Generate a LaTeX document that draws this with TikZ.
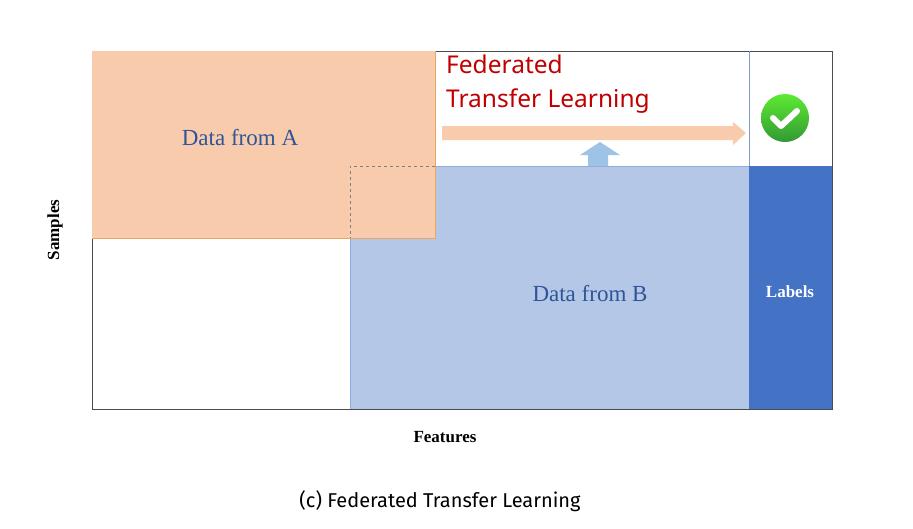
\documentclass[tikz,border=0pt]{standalone}
\usepackage{fontspec}
\setmainfont{Liberation Serif}
\newfontfamily\redsans{Noto Sans}
\newfontfamily\capfont{Fira Sans}
\definecolor{orA}{HTML}{F8CBAD}
\definecolor{blB}{HTML}{B4C7E7}
\definecolor{blL}{HTML}{4472C4}
\definecolor{txB}{HTML}{2F5597}
\definecolor{redT}{HTML}{C00000}
\definecolor{upA}{HTML}{9DC3E6}
\usetikzlibrary{shadings}
\begin{document}
\begin{tikzpicture}[x=1pt,y=-1pt,
  lbl/.style={inner sep=0pt,font=\bfseries\fontsize{17}{20}\selectfont}]
\useasboundingbox (0,0) rectangle (913,528);
\fill[white] (0,0) rectangle (913,528);
\node (frame) [draw=black!70,line width=0.8pt,minimum width=740pt,minimum height=358pt,inner sep=0pt,anchor=north west] at (92,51) {};
\fill[blB] (350,166) rectangle (749,409);
\draw[blL!60,line width=0.6pt] (350,409) -- (350,166) -- (749,166);
\fill[orA] (92,51) rectangle (435,238);
\draw[orange!50!brown!70,line width=0.5pt] (92,238) -- (435,238) -- (435,51);
\draw[gray,dashed,line width=0.6pt] (435,166) -- (350,166) -- (350,238);
\fill[blL] (749,166) rectangle (832,409);
\draw[blL!70,line width=0.6pt] (749,51) -- (749,166);
\node (dA) [text=txB,font=\fontsize{23}{26}\selectfont] at (240,138) {Data from A};
\node (dB) [text=txB,font=\fontsize{23}{26}\selectfont] at (590,294) {Data from B};
\node (lab) [lbl,text=white] at (790,292) {Labels};
\node (ftl) [text=redT,font=\redsans\fontsize{24.5}{34}\selectfont,align=left,anchor=north west,inner sep=0pt] at (446,55) {Federated\\Transfer Learning};
\fill[orA] (442,126) -- (733,126) -- (733,122) -- (746,133) -- (733,145) -- (733,140) -- (442,140) -- cycle;
\fill[upA] (588,166) -- (588,155) -- (580,155) -- (600,142) -- (620,155) -- (608,155) -- (608,166) -- cycle;
\shade[top color=green!70!lime!90!black!80, bottom color=green!50!black!80] (785,118) circle (24);
\draw[white,line width=6pt,line cap=round,line join=round] (773,118) -- (781,126) -- (797,111);
\node (smp) [lbl,rotate=90] at (55,230) {Samples};
\node (feat) [lbl] at (445,437) {Features};
\node (cap) [font=\capfont\fontsize{20}{24}\selectfont] at (440,501) {(c) Federated Transfer Learning};
\end{tikzpicture}
\end{document}
